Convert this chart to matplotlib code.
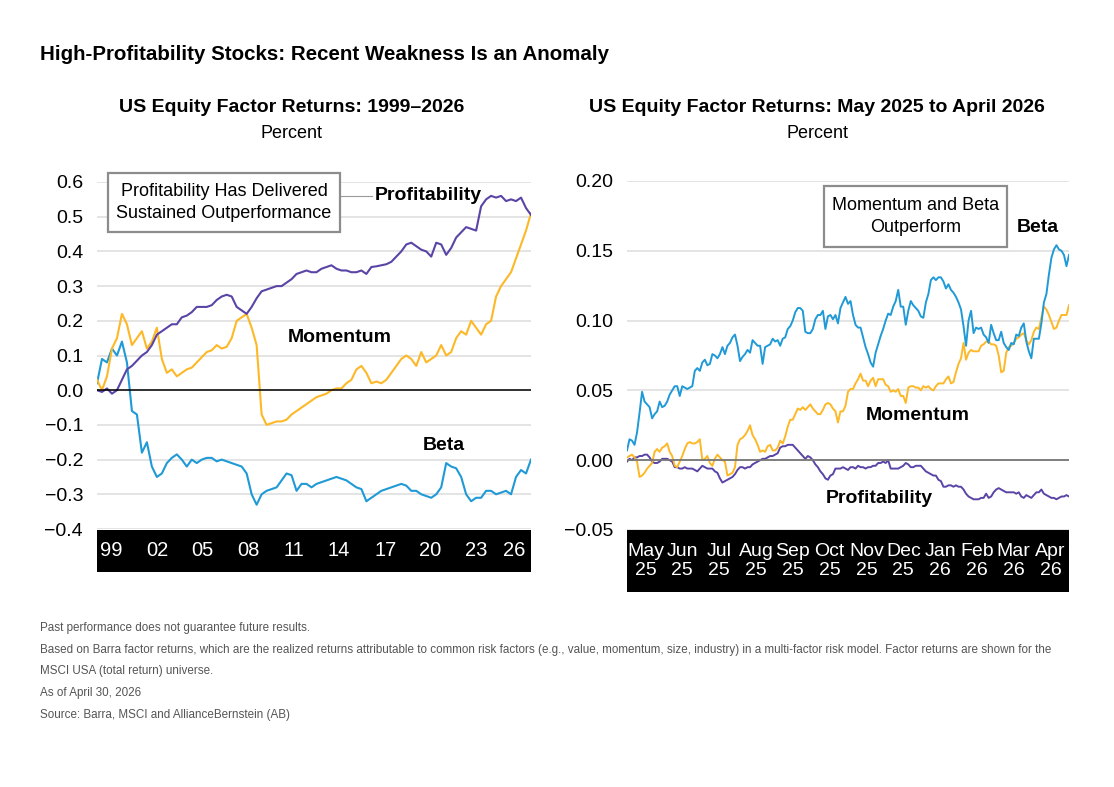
import numpy as np
import pandas as pd
import matplotlib
matplotlib.use("Agg")
import matplotlib.pyplot as plt
from matplotlib.patches import Rectangle
from matplotlib.lines import Line2D

plt.rcParams['font.family'] = ['Liberation Sans', 'DejaVu Sans']

# --- data (percent) ---
long_start, long_end = '1999-01-01', '2026-04-30'
long_prof = [0.00, -0.005, 0.005, -0.01, 0.0, 0.03, 0.06, 0.07, 0.085, 0.10,
             0.11, 0.13, 0.16, 0.17, 0.18, 0.19, 0.19, 0.21, 0.215, 0.225,
             0.24, 0.24, 0.24, 0.245, 0.26, 0.27, 0.275, 0.27, 0.24, 0.23,
             0.22, 0.24, 0.265, 0.285, 0.29, 0.295, 0.30, 0.30, 0.31, 0.32,
             0.335, 0.34, 0.345, 0.34, 0.34, 0.35, 0.355, 0.36, 0.35, 0.345,
             0.345, 0.34, 0.34, 0.345, 0.335, 0.355, 0.357, 0.36, 0.363, 0.37,
             0.385, 0.40, 0.42, 0.425, 0.415, 0.405, 0.40, 0.385, 0.425, 0.42,
             0.39, 0.41, 0.44, 0.455, 0.47, 0.465, 0.46, 0.53, 0.55, 0.56,
             0.555, 0.56, 0.545, 0.55, 0.545, 0.555, 0.525, 0.505]
long_mom = [0.03, 0.00, 0.04, 0.12, 0.15, 0.22, 0.19, 0.13, 0.15, 0.17,
            0.12, 0.14, 0.18, 0.09, 0.05, 0.06, 0.04, 0.05, 0.06, 0.065,
            0.08, 0.095, 0.11, 0.115, 0.13, 0.12, 0.125, 0.15, 0.20, 0.21,
            0.22, 0.18, 0.13, -0.07, -0.10, -0.095, -0.09, -0.09, -0.085, -0.07,
            -0.06, -0.05, -0.04, -0.03, -0.02, -0.015, -0.01, 0.00, 0.005, 0.005,
            0.02, 0.03, 0.06, 0.07, 0.05, 0.02, 0.025, 0.02, 0.03, 0.05,
            0.07, 0.09, 0.10, 0.09, 0.07, 0.11, 0.08, 0.09, 0.10, 0.13,
            0.10, 0.11, 0.15, 0.17, 0.16, 0.20, 0.18, 0.16, 0.19, 0.20,
            0.27, 0.30, 0.32, 0.34, 0.38, 0.42, 0.46, 0.51]
long_beta = [0.02, 0.09, 0.08, 0.12, 0.10, 0.14, 0.08, -0.06, -0.07, -0.18,
             -0.15, -0.22, -0.25, -0.24, -0.21, -0.195, -0.185, -0.20, -0.22, -0.20,
             -0.21, -0.20, -0.195, -0.195, -0.205, -0.20, -0.205, -0.21, -0.215, -0.22,
             -0.24, -0.30, -0.33, -0.30, -0.29, -0.285, -0.28, -0.26, -0.24, -0.245,
             -0.29, -0.27, -0.27, -0.28, -0.27, -0.265, -0.26, -0.255, -0.25, -0.255,
             -0.26, -0.27, -0.28, -0.285, -0.32, -0.31, -0.30, -0.29, -0.285, -0.28,
             -0.275, -0.27, -0.275, -0.29, -0.29, -0.30, -0.305, -0.31, -0.30, -0.28,
             -0.21, -0.22, -0.225, -0.25, -0.30, -0.32, -0.31, -0.31, -0.29, -0.29,
             -0.30, -0.295, -0.29, -0.30, -0.25, -0.23, -0.24, -0.20]
long_yticks = [-0.4, -0.3, -0.2, -0.1, 0.0, 0.1, 0.2, 0.3, 0.4, 0.5, 0.6]
year_labels = ['99', '02', '05', '08', '11', '14', '17', '20', '23', '26']

short_start, short_end = '2025-05-01', '2026-04-30'
short_beta = [0.007, 0.015, 0.014, 0.011, 0.020, 0.034, 0.049, 0.042, 0.040, 0.038,
              0.030, 0.033, 0.035, 0.042, 0.038, 0.039, 0.042, 0.047, 0.050, 0.053,
              0.053, 0.046, 0.053, 0.052, 0.051, 0.052, 0.053, 0.064, 0.066, 0.064,
              0.070, 0.072, 0.068, 0.069, 0.076, 0.075, 0.073, 0.076, 0.081, 0.076,
              0.082, 0.084, 0.088, 0.090, 0.082, 0.071, 0.074, 0.076, 0.079, 0.077,
              0.086, 0.084, 0.082, 0.082, 0.069, 0.081, 0.082, 0.083, 0.087,
              0.085, 0.086, 0.082, 0.087, 0.088, 0.094, 0.096, 0.100, 0.106, 0.109,
              0.109, 0.107, 0.092, 0.091, 0.091, 0.094, 0.101, 0.104, 0.104, 0.107,
              0.094, 0.103, 0.104, 0.101, 0.104, 0.098, 0.109, 0.113, 0.117, 0.112,
              0.114, 0.104, 0.097, 0.095, 0.095, 0.088, 0.081, 0.076, 0.070, 0.067,
              0.077, 0.083, 0.089, 0.094, 0.100, 0.105, 0.104, 0.110, 0.114, 0.122,
              0.110, 0.110, 0.097, 0.107, 0.114, 0.111, 0.109, 0.107, 0.103,
              0.102, 0.113, 0.119, 0.129, 0.131, 0.129, 0.131, 0.131, 0.128, 0.123,
              0.126, 0.122, 0.120, 0.117, 0.113, 0.108, 0.096, 0.082, 0.100, 0.107,
              0.091, 0.095, 0.094, 0.095, 0.090, 0.088, 0.084, 0.097, 0.091, 0.086,
              0.086, 0.092, 0.084, 0.081, 0.079, 0.084, 0.083, 0.090, 0.089, 0.095,
              0.098, 0.085, 0.078, 0.073, 0.087, 0.087, 0.087, 0.098, 0.113, 0.119,
              0.133, 0.145, 0.151, 0.154, 0.151, 0.150, 0.147, 0.139, 0.147]
short_mom = [0.002, 0.003, 0.004, 0.002, -0.001, -0.012, -0.011, -0.009, -0.006, -0.004,
             -0.002, 0.006, 0.008, 0.006, 0.009, 0.010, 0.012, 0.006, 0.003, -0.004,
             -0.005, -0.001, 0.003, 0.008, 0.012, 0.013, 0.012, 0.012, 0.013, 0.015,
             0.000, 0.001, 0.003, -0.002, -0.004, 0.001, 0.004, 0.002, 0.000, -0.001,
             -0.011, -0.010, -0.009, -0.005, 0.011, 0.015, 0.016, 0.018, 0.021, 0.025,
             0.018, 0.015, 0.011, 0.006, 0.007, 0.006, 0.010, 0.011, 0.007,
             0.007, 0.009, 0.014, 0.012, 0.017, 0.024, 0.029, 0.029, 0.033, 0.037,
             0.036, 0.038, 0.036, 0.038, 0.040, 0.037, 0.035, 0.033, 0.033, 0.036,
             0.040, 0.041, 0.040, 0.037, 0.035, 0.027, 0.035, 0.035, 0.039, 0.049,
             0.051, 0.051, 0.055, 0.058, 0.062, 0.057, 0.057, 0.053, 0.057, 0.059,
             0.053, 0.058, 0.058, 0.058, 0.054, 0.053, 0.049, 0.050, 0.049, 0.051,
             0.046, 0.046, 0.041, 0.052, 0.053, 0.053, 0.052, 0.052, 0.050,
             0.053, 0.052, 0.053, 0.051, 0.050, 0.053, 0.055, 0.055, 0.055, 0.058,
             0.060, 0.055, 0.056, 0.063, 0.069, 0.073, 0.084, 0.072, 0.077, 0.079,
             0.078, 0.078, 0.078, 0.082, 0.083, 0.085, 0.085, 0.083, 0.083, 0.082,
             0.075, 0.063, 0.064, 0.077, 0.081, 0.082, 0.084, 0.087, 0.088, 0.090,
             0.091, 0.086, 0.083, 0.086, 0.092, 0.095, 0.094, 0.102, 0.110, 0.108,
             0.104, 0.099, 0.094, 0.095, 0.100, 0.104, 0.104, 0.104, 0.111]
short_prof = [-0.001, 0.001, 0.000, 0.002, 0.002, 0.003, 0.003, 0.004, 0.004, 0.002,
              -0.001, -0.002, -0.002, -0.001, 0.001, 0.001, 0.001, 0.000, -0.001, -0.005,
              -0.005, -0.006, -0.006, -0.005, -0.006, -0.006, -0.006, -0.007, -0.008, -0.006,
              -0.004, -0.005, -0.006, -0.006, -0.006, -0.008, -0.009, -0.013, -0.016, -0.015,
              -0.014, -0.013, -0.012, -0.010, -0.007, -0.005, -0.005, -0.006, -0.005, -0.005,
              -0.003, -0.002, -0.001, 0.000, 0.001, 0.001, 0.002, 0.003, 0.003,
              0.004, 0.005, 0.009, 0.010, 0.010, 0.011, 0.011, 0.011, 0.009, 0.007,
              0.005, 0.003, 0.001, 0.003, 0.002, 0.000, -0.003, -0.005, -0.008, -0.010,
              -0.013, -0.014, -0.011, -0.010, -0.006, -0.006, -0.006, -0.005, -0.006, -0.007,
              -0.005, -0.005, -0.006, -0.004, -0.005, -0.005, -0.006, -0.005, -0.005, -0.004,
              -0.004, -0.002, -0.002, -0.001, -0.002, 0.000, -0.006, -0.006, -0.006, -0.006,
              -0.005, -0.004, -0.002, -0.003, -0.005, -0.005, -0.004, -0.004, -0.004,
              -0.006, -0.008, -0.009, -0.010, -0.011, -0.011, -0.014, -0.015, -0.019, -0.019,
              -0.018, -0.018, -0.019, -0.018, -0.019, -0.019, -0.021, -0.024, -0.026, -0.027,
              -0.028, -0.028, -0.028, -0.027, -0.027, -0.024, -0.027, -0.026, -0.023, -0.021,
              -0.020, -0.021, -0.022, -0.023, -0.023, -0.023, -0.023, -0.024, -0.023, -0.026,
              -0.027, -0.025, -0.026, -0.027, -0.025, -0.023, -0.023, -0.021, -0.024, -0.025,
              -0.026, -0.027, -0.027, -0.028, -0.027, -0.026, -0.026, -0.025, -0.026]
short_yticks = [-0.05, 0.00, 0.05, 0.10, 0.15, 0.20]
month_labels = ['May\n25', 'Jun\n25', 'Jul\n25', 'Aug\n25', 'Sep\n25', 'Oct\n25',
                'Nov\n25', 'Dec\n25', 'Jan\n26', 'Feb\n26', 'Mar\n26', 'Apr\n26']

PURPLE = '#5a44a6'
YELLOW = '#fdb827'
BLUE = '#1f9ad6'
GRID = '#dddddd'

W, H = 1114, 787
fig = plt.figure(figsize=(W / 100, H / 100), dpi=100)


def px(x0, y0, x1, y1):
    # pixel box -> figure fraction [left, bottom, width, height]
    return [x0 / W, 1 - y1 / H, (x1 - x0) / W, (y1 - y0) / H]


def style_axis(ax, yticks, nd):
    for s in ax.spines.values():
        s.set_visible(False)
    ax.set_yticks(yticks)
    labels = [f'{v:.{nd}f}' if v >= 0 else '\u2212' + f'{-v:.{nd}f}' for v in yticks]
    ax.set_yticklabels(labels, fontsize=14)
    ax.tick_params(axis='y', length=0, pad=10)
    ax.set_xticks([])
    ax.grid(axis='y', color=GRID, lw=1.1)
    ax.set_axisbelow(True)


def black_bar(box):
    b = fig.add_axes(px(*box))
    b.set_facecolor('black')
    b.set_xticks([]); b.set_yticks([])
    for s in b.spines.values():
        s.set_visible(False)
    return b


# ---------------- left panel ----------------
ax1 = fig.add_axes(px(97, 182, 531, 529))
t1 = pd.date_range(long_start, long_end, periods=len(long_prof))
ax1.plot(t1, long_beta, color=BLUE, lw=1.5)
ax1.plot(t1, long_mom, color=YELLOW, lw=1.5)
ax1.plot(t1, long_prof, color=PURPLE, lw=1.5)
ax1.axhline(0, color='black', lw=1.1)
ax1.set_xlim(t1[0], t1[-1])
ax1.set_ylim(-0.4, 0.6)
style_axis(ax1, long_yticks, 1)

bar1 = black_bar((97, 530, 531, 572))
year_pos = [0.032, 0.138, 0.242, 0.348, 0.454, 0.558, 0.664, 0.767, 0.873, 0.961]
for pos, lab in zip(year_pos, year_labels):
    bar1.text(pos, 0.5, lab, color='white', fontsize=14.5, ha='center', va='center',
              transform=bar1.transAxes)

# ---------------- right panel ----------------
ax2 = fig.add_axes(px(627, 181, 1069, 530))
t2 = pd.date_range(short_start, short_end, periods=len(short_beta))
ax2.plot(t2, short_prof, color=PURPLE, lw=1.4)
ax2.plot(t2, short_mom, color=YELLOW, lw=1.4)
ax2.plot(t2, short_beta, color=BLUE, lw=1.4)
ax2.axhline(0, color='#777777', lw=1.3)
ax2.set_xlim(t2[0], t2[-1])
ax2.set_ylim(-0.05, 0.20)
style_axis(ax2, short_yticks, 2)

bar2 = black_bar((627, 530, 1069, 592))
for i, lab in enumerate(month_labels):
    bar2.text((i + 0.5) / len(month_labels), 0.5, lab, color='white', fontsize=14,
              ha='center', va='center', linespacing=1.1, transform=bar2.transAxes)

# ---------------- annotation boxes and labels ----------------
def fig_text(x, y, s, **kw):
    fig.text(x / W, 1 - y / H, s, **kw)


def fig_box(x0, y0, x1, y1):
    fig.patches.append(Rectangle((x0 / W, 1 - y1 / H), (x1 - x0) / W, (y1 - y0) / H,
                                 transform=fig.transFigure, facecolor='white',
                                 edgecolor='#8c8c8c', lw=1.6, zorder=5))


fig_box(108, 173, 340, 232)
fig_text(224, 202.5, 'Profitability Has Delivered\nSustained Outperformance', fontsize=13,
         ha='center', va='center', linespacing=1.45, zorder=6)
fig.lines.append(Line2D([340 / W, 372 / W], [1 - 196 / H, 1 - 196 / H],
                        transform=fig.transFigure, color='#999999', lw=0.8))

fig_box(824, 186, 1007, 247)
fig_text(915.5, 216.5, 'Momentum and Beta\nOutperform', fontsize=13,
         ha='center', va='center', linespacing=1.45, zorder=6)

bold = dict(fontsize=14, fontweight='bold', ha='center', va='center')
fig_text(428, 196, 'Profitability', **bold)
fig_text(340, 338, 'Momentum', **bold)
fig_text(444, 446, 'Beta', **bold)
fig_text(1038, 228, 'Beta', **bold)
fig_text(918, 416, 'Momentum', **bold)
fig_text(879, 498, 'Profitability', **bold)

# ---------------- titles ----------------
fig_text(40, 55, 'High-Profitability Stocks: Recent Weakness Is an Anomaly',
         fontsize=14.8, fontweight='bold', ha='left', va='center')
fig_text(291.5, 107, 'US Equity Factor Returns: 1999\u20132026', fontsize=14,
         fontweight='bold', ha='center', va='center')
fig_text(291.5, 134, 'Percent', fontsize=13, ha='center', va='center')
fig_text(817, 107, 'US Equity Factor Returns: May 2025 to April 2026', fontsize=14,
         fontweight='bold', ha='center', va='center')
fig_text(817, 134, 'Percent', fontsize=13, ha='center', va='center')

# ---------------- footnotes ----------------
notes = ['Past performance does not guarantee future results.',
         'Based on Barra factor returns, which are the realized returns attributable to common risk '
         'factors (e.g., value, momentum, size, industry) in a multi-factor risk model. Factor returns '
         'are shown for the',
         'MSCI USA (total return) universe.',
         'As of April 30, 2026',
         'Source: Barra, MSCI and AllianceBernstein (AB)']
for i, line in enumerate(notes):
    fig_text(40, 628 + 21.7 * i, line, fontsize=8.4, color='#555555',
             ha='left', va='center')

fig.savefig('out.png', dpi=100, facecolor='white')
